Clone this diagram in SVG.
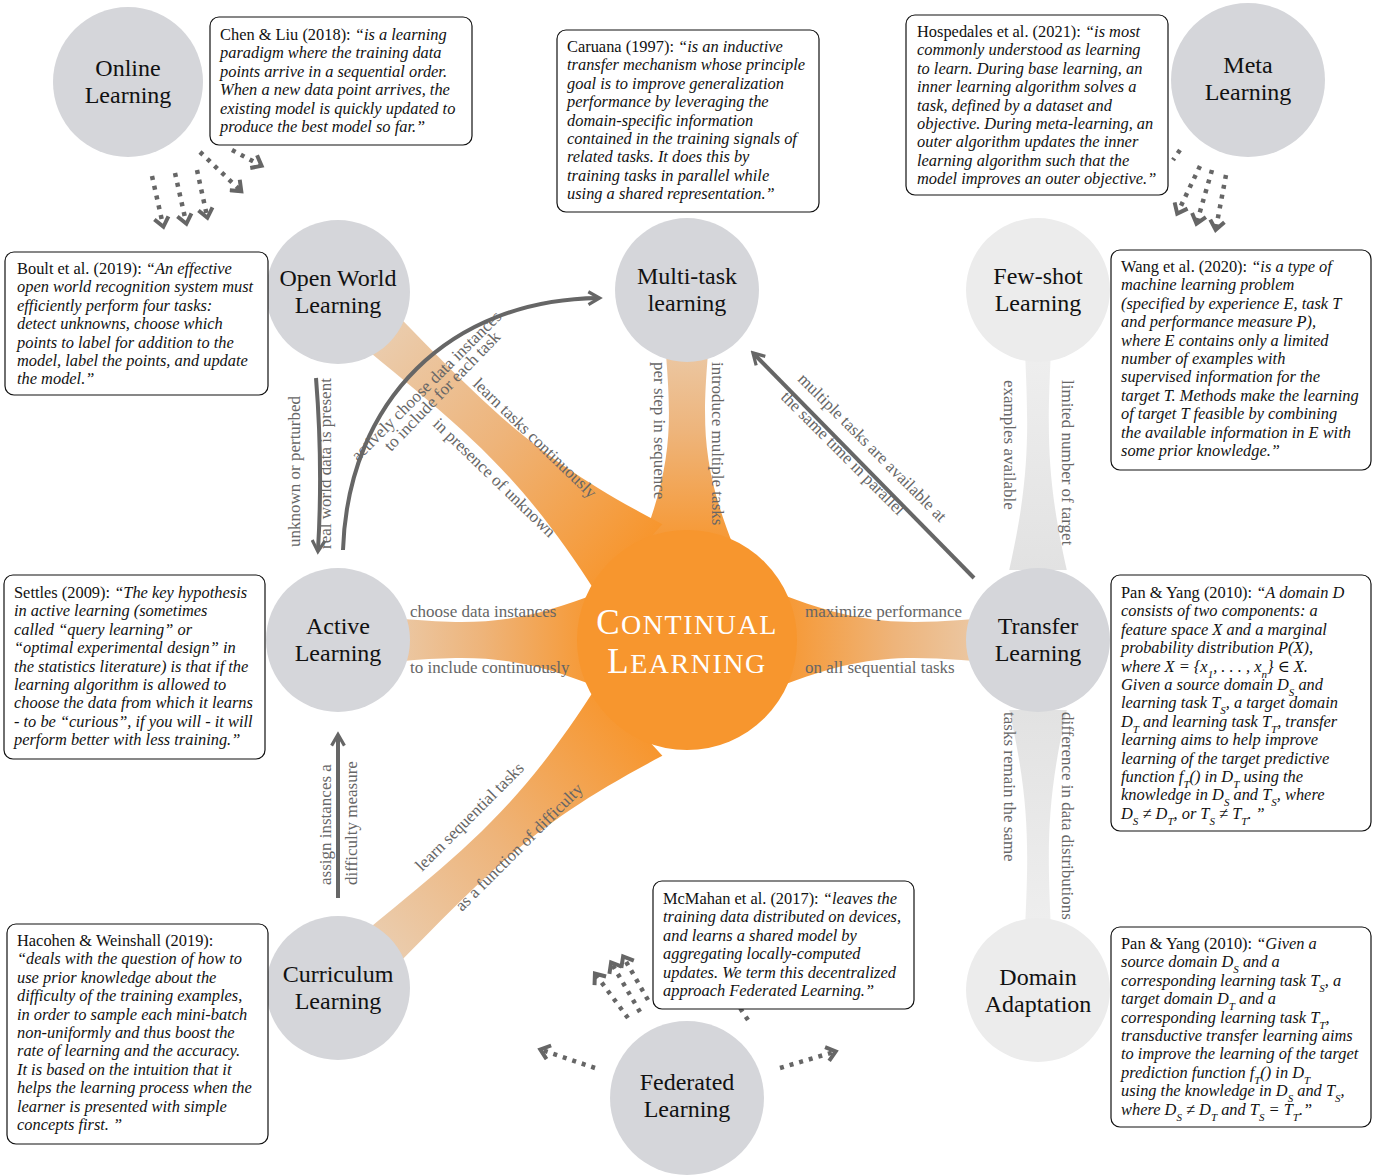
<svg xmlns="http://www.w3.org/2000/svg" width="1373" height="1176" viewBox="0 0 1373 1176">
<style>
text{font-family:"Liberation Serif","DejaVu Serif",serif}
.node{fill:#d5d6da}
.lnode{fill:#ececec}
.nl{font-size:24px;fill:#111;text-anchor:middle}
.box{fill:#fff;stroke:#111;stroke-width:1.2}
.bt{font-size:16.4px;fill:#111}
.i{font-style:italic}
.sb{font-size:11px;baseline-shift:sub}
.cl{font-size:17px;fill:#666}
.arr{fill:none;stroke:#666;stroke-width:4}
.dot{fill:none;stroke:#666;stroke-width:4.5;stroke-dasharray:4 6}
</style>
<defs>
<linearGradient id="og" x1="0" y1="0" x2="1" y2="0">
<stop offset="0" stop-color="#e9d6c2"/><stop offset="0.55" stop-color="#eeb47a"/><stop offset="1" stop-color="#f7962e"/>
</linearGradient>
<linearGradient id="gg" x1="0" y1="0" x2="1" y2="0">
<stop offset="0" stop-color="#f2f2f2"/><stop offset="1" stop-color="#e2e2e2"/>
</linearGradient>
<path id="fun" d="M0,-26 C90,-18 120,-6 200,-48 L200,48 C120,6 90,18 0,26 Z"/>
<marker id="ah" viewBox="0 0 10 10" refX="7" refY="5" markerWidth="4" markerHeight="4" orient="auto"><path d="M1,1 L8,5 L1,9" fill="none" stroke="#666" stroke-width="2"/></marker>
<marker id="ch" viewBox="0 0 10 10" refX="5" refY="5" markerWidth="4" markerHeight="4" orient="auto"><path d="M1,1 L6,5 L1,9" fill="none" stroke="#666" stroke-width="2.2"/></marker>
</defs>

<g id="connectors">
<use href="#fun" fill="url(#og)" transform="translate(338,640) scale(1.31,1)"/>
<use href="#fun" fill="url(#og)" transform="translate(1038,640) rotate(180) scale(1.31,1)"/>
<use href="#fun" fill="url(#og)" transform="translate(687,290) rotate(90) scale(1.3,1)"/>
<use href="#fun" fill="url(#og)" transform="translate(338,292) rotate(42.5) scale(1.98,1)"/>
<use href="#fun" fill="url(#og)" transform="translate(338,988) rotate(-42.5) scale(1.98,1)"/>
<use href="#fun" fill="url(#gg)" transform="translate(1038,290) rotate(90) scale(1.4,0.6)"/>
<use href="#fun" fill="url(#gg)" transform="translate(1038,990) rotate(-90) scale(1.4,0.6)"/>
<path class="arr" d="M316,378 Q323,465 318,550" marker-end="url(#ah)"/>
<path class="arr" d="M343,550 C348,400 450,300 598,298" marker-end="url(#ah)"/>
<path class="arr" d="M338,898 L338,736" marker-end="url(#ah)"/>
<path class="arr" d="M974,578 L754,354" marker-end="url(#ah)"/>
<path class="dot" d="M200,152 L240,190" marker-end="url(#ch)"/>
<path class="dot" d="M232,150 L260,165" marker-end="url(#ch)"/>
<path class="dot" d="M152,176 L163,225" marker-end="url(#ch)"/>
<path class="dot" d="M175,173 L186,222" marker-end="url(#ch)"/>
<path class="dot" d="M197,170 L207,216" marker-end="url(#ch)"/>
<path class="dot" d="M1180,150 L1173,160"/>
<path class="dot" d="M1200,166 L1178,212" marker-end="url(#ch)"/>
<path class="dot" d="M1212,170 L1197,222" marker-end="url(#ch)"/>
<path class="dot" d="M1226,175 L1216,228" marker-end="url(#ch)"/>
<path class="dot" d="M595,1068 L542,1050" marker-end="url(#ch)"/>
<path class="dot" d="M780,1068 L834,1052" marker-end="url(#ch)"/>
<path class="dot" d="M628,1018 L596,975" marker-end="url(#ch)"/>
<path class="dot" d="M640,1012 L612,964" marker-end="url(#ch)"/>
<path class="dot" d="M648,1000 L624,958" marker-end="url(#ch)"/>
<path class="dot" d="M748,1020 L740,1008"/>
</g>

<g id="conn-labels" class="cl">
<text x="410" y="617">choose data instances</text>
<text x="410" y="673">to include continuously</text>
<text x="805" y="617">maximize performance</text>
<text x="805" y="673">on all sequential tasks</text>
<text transform="translate(654,362) rotate(90)">per step in sequence</text>
<text transform="translate(712,362) rotate(90)">introduce multiple tasks</text>
<text transform="translate(1004,380) rotate(90)">examples available</text>
<text transform="translate(1062,380) rotate(90)">limited number of target</text>
<text transform="translate(1004,712) rotate(90)">tasks remain the same</text>
<text transform="translate(1062,712) rotate(90)">difference in data distributions</text>
<text transform="translate(472,385) rotate(44)">learn tasks continuously</text>
<text transform="translate(432,425) rotate(44)">in presence of unknown</text>
<text transform="translate(358,462) rotate(-45)">actively choose data instances</text>
<text transform="translate(391,452) rotate(-46)">to include for each task</text>
<text transform="translate(797,380) rotate(45)">multiple tasks are available at</text>
<text transform="translate(780,398) rotate(45)">the same time in parallel</text>
<text transform="translate(300,547) rotate(-90)">unknown or perturbed</text>
<text transform="translate(331,549) rotate(-90)">real world data is present</text>
<text transform="translate(331,885) rotate(-90)">assign instances a</text>
<text transform="translate(357,885) rotate(-90)">difficulty measure</text>
<text transform="translate(422,872) rotate(-45)">learn sequential tasks</text>
<text transform="translate(462,912) rotate(-45)">as a function of difficulty</text>
</g>

<g id="center"><circle cx="687" cy="640" r="110" fill="#f7962e"/>
<text x="687" y="634" text-anchor="middle" fill="#fff" font-size="28" letter-spacing="1.5"><tspan font-size="35">C</tspan>ONTINUAL</text>
<text x="687" y="673" text-anchor="middle" fill="#fff" font-size="28" letter-spacing="1.5"><tspan font-size="35">L</tspan>EARNING</text></g>

<g id="online"><circle class="node" cx="128" cy="82" r="75"/><text class="nl" x="128" y="76">Online</text><text class="nl" x="128" y="103">Learning</text></g>
<g id="openworld"><circle class="node" cx="338" cy="292" r="72"/><text class="nl" x="338" y="286">Open World</text><text class="nl" x="338" y="313">Learning</text></g>
<g id="multitask"><circle class="node" cx="687" cy="290" r="72"/><text class="nl" x="687" y="284">Multi-task</text><text class="nl" x="687" y="311">learning</text></g>
<g id="fewshot"><circle class="lnode" cx="1038" cy="290" r="72"/><text class="nl" x="1038" y="284">Few-shot</text><text class="nl" x="1038" y="311">Learning</text></g>
<g id="meta"><circle class="node" cx="1248" cy="80" r="77"/><text class="nl" x="1248" y="73">Meta</text><text class="nl" x="1248" y="100">Learning</text></g>
<g id="active"><circle class="node" cx="338" cy="640" r="72"/><text class="nl" x="338" y="634">Active</text><text class="nl" x="338" y="661">Learning</text></g>
<g id="transfer"><circle class="node" cx="1038" cy="640" r="72"/><text class="nl" x="1038" y="634">Transfer</text><text class="nl" x="1038" y="661">Learning</text></g>
<g id="curriculum"><circle class="node" cx="338" cy="988" r="72"/><text class="nl" x="338" y="982">Curriculum</text><text class="nl" x="338" y="1009">Learning</text></g>
<g id="domain"><circle class="lnode" cx="1038" cy="990" r="72"/><text class="nl" x="1038" y="985">Domain</text><text class="nl" x="1038" y="1012">Adaptation</text></g>
<g id="federated"><circle class="node" cx="687" cy="1098" r="77"/><text class="nl" x="687" y="1090">Federated</text><text class="nl" x="687" y="1117">Learning</text></g>

<g id="box-chen"><rect class="box" x="210" y="17" width="262" height="128" rx="9"/>
<text class="bt" x="220" y="40">Chen &amp; Liu (2018): <tspan class="i">“is a learning</tspan></text>
<text class="bt i" x="220" y="58.4">paradigm where the training data</text>
<text class="bt i" x="220" y="76.8">points arrive in a sequential order.</text>
<text class="bt i" x="220" y="95.2">When a new data point arrives, the</text>
<text class="bt i" x="220" y="113.6">existing model is quickly updated to</text>
<text class="bt i" x="220" y="132">produce the best model so far.”</text></g>

<g id="box-caruana"><rect class="box" x="557" y="30" width="262" height="182" rx="9"/>
<text class="bt" x="567" y="52">Caruana (1997): <tspan class="i">“is an inductive</tspan></text>
<text class="bt i" x="567" y="70.4">transfer mechanism whose principle</text>
<text class="bt i" x="567" y="88.8">goal is to improve generalization</text>
<text class="bt i" x="567" y="107.2">performance by leveraging the</text>
<text class="bt i" x="567" y="125.6">domain-specific information</text>
<text class="bt i" x="567" y="144">contained in the training signals of</text>
<text class="bt i" x="567" y="162.4">related tasks. It does this by</text>
<text class="bt i" x="567" y="180.8">training tasks in parallel while</text>
<text class="bt i" x="567" y="199.2">using a shared representation.”</text></g>

<g id="box-hospedales"><rect class="box" x="906" y="15" width="262" height="180" rx="9"/>
<text class="bt" x="917" y="37">Hospedales et al. (2021): <tspan class="i">“is most</tspan></text>
<text class="bt i" x="917" y="55.4">commonly understood as learning</text>
<text class="bt i" x="917" y="73.8">to learn. During base learning, an</text>
<text class="bt i" x="917" y="92.2">inner learning algorithm solves a</text>
<text class="bt i" x="917" y="110.6">task, defined by a dataset and</text>
<text class="bt i" x="917" y="129">objective. During meta-learning, an</text>
<text class="bt i" x="917" y="147.4">outer algorithm updates the inner</text>
<text class="bt i" x="917" y="165.8">learning algorithm such that the</text>
<text class="bt i" x="917" y="184.2">model improves an outer objective.”</text></g>

<g id="box-boult"><rect class="box" x="5" y="252" width="263" height="143" rx="9"/>
<text class="bt" x="17" y="274">Boult et al. (2019): <tspan class="i">“An effective</tspan></text>
<text class="bt i" x="17" y="292.4">open world recognition system must</text>
<text class="bt i" x="17" y="310.8">efficiently perform four tasks:</text>
<text class="bt i" x="17" y="329.2">detect unknowns, choose which</text>
<text class="bt i" x="17" y="347.6">points to label for addition to the</text>
<text class="bt i" x="17" y="366">model, label the points, and update</text>
<text class="bt i" x="17" y="384.4">the model.”</text></g>

<g id="box-wang"><rect class="box" x="1111" y="250" width="260" height="220" rx="9"/>
<text class="bt" x="1121" y="272">Wang et al. (2020): <tspan class="i">“is a type of</tspan></text>
<text class="bt i" x="1121" y="290.4">machine learning problem</text>
<text class="bt i" x="1121" y="308.8">(specified by experience E, task T</text>
<text class="bt i" x="1121" y="327.2">and performance measure P),</text>
<text class="bt i" x="1121" y="345.6">where E contains only a limited</text>
<text class="bt i" x="1121" y="364">number of examples with</text>
<text class="bt i" x="1121" y="382.4">supervised information for the</text>
<text class="bt i" x="1121" y="400.8">target T. Methods make the learning</text>
<text class="bt i" x="1121" y="419.2">of target T feasible by combining</text>
<text class="bt i" x="1121" y="437.6">the available information in E with</text>
<text class="bt i" x="1121" y="456">some prior knowledge.”</text></g>

<g id="box-settles"><rect class="box" x="4" y="575" width="261" height="184" rx="9"/>
<text class="bt" x="14" y="598">Settles (2009): <tspan class="i">“The key hypothesis</tspan></text>
<text class="bt i" x="14" y="616.4">in active learning (sometimes</text>
<text class="bt i" x="14" y="634.8">called “query learning” or</text>
<text class="bt i" x="14" y="653.2">“optimal experimental design” in</text>
<text class="bt i" x="14" y="671.6">the statistics literature) is that if the</text>
<text class="bt i" x="14" y="690">learning algorithm is allowed to</text>
<text class="bt i" x="14" y="708.4">choose the data from which it learns</text>
<text class="bt i" x="14" y="726.8">- to be “curious”, if you will - it will</text>
<text class="bt i" x="14" y="745.2">perform better with less training.”</text></g>

<g id="box-pan1"><rect class="box" x="1111" y="575" width="260" height="256" rx="9"/>
<text class="bt" x="1121" y="598">Pan &amp; Yang (2010): <tspan class="i">“A domain D</tspan></text>
<text class="bt i" x="1121" y="616.4">consists of two components: a</text>
<text class="bt i" x="1121" y="634.8">feature space X and a marginal</text>
<text class="bt i" x="1121" y="653.2">probability distribution P(X),</text>
<text class="bt i" x="1121" y="671.6">where X = {x<tspan class="sb">1</tspan>, . . . , x<tspan class="sb">n</tspan>} ∈ X.</text>
<text class="bt i" x="1121" y="690">Given a source domain D<tspan class="sb">S</tspan> and</text>
<text class="bt i" x="1121" y="708.4">learning task T<tspan class="sb">S</tspan>, a target domain</text>
<text class="bt i" x="1121" y="726.8">D<tspan class="sb">T</tspan> and learning task T<tspan class="sb">T</tspan>, transfer</text>
<text class="bt i" x="1121" y="745.2">learning aims to help improve</text>
<text class="bt i" x="1121" y="763.6">learning of the target predictive</text>
<text class="bt i" x="1121" y="782">function f<tspan class="sb">T</tspan>() in D<tspan class="sb">T</tspan> using the</text>
<text class="bt i" x="1121" y="800.4">knowledge in D<tspan class="sb">S</tspan> and T<tspan class="sb">S</tspan>, where</text>
<text class="bt i" x="1121" y="818.8">D<tspan class="sb">S</tspan> ≠ D<tspan class="sb">T</tspan>, or T<tspan class="sb">S</tspan> ≠ T<tspan class="sb">T</tspan>. ”</text></g>

<g id="box-hacohen"><rect class="box" x="7" y="924" width="261" height="220" rx="9"/>
<text class="bt" x="17" y="946">Hacohen &amp; Weinshall (2019):</text>
<text class="bt i" x="17" y="964.4">“deals with the question of how to</text>
<text class="bt i" x="17" y="982.8">use prior knowledge about the</text>
<text class="bt i" x="17" y="1001.2">difficulty of the training examples,</text>
<text class="bt i" x="17" y="1019.6">in order to sample each mini-batch</text>
<text class="bt i" x="17" y="1038">non-uniformly and thus boost the</text>
<text class="bt i" x="17" y="1056.4">rate of learning and the accuracy.</text>
<text class="bt i" x="17" y="1074.8">It is based on the intuition that it</text>
<text class="bt i" x="17" y="1093.2">helps the learning process when the</text>
<text class="bt i" x="17" y="1111.6">learner is presented with simple</text>
<text class="bt i" x="17" y="1130">concepts first. ”</text></g>

<g id="box-mcmahan"><rect class="box" x="653" y="881" width="261" height="128" rx="9"/>
<text class="bt" x="663" y="904">McMahan et al. (2017): <tspan class="i">“leaves the</tspan></text>
<text class="bt i" x="663" y="922.4">training data distributed on devices,</text>
<text class="bt i" x="663" y="940.8">and learns a shared model by</text>
<text class="bt i" x="663" y="959.2">aggregating locally-computed</text>
<text class="bt i" x="663" y="977.6">updates. We term this decentralized</text>
<text class="bt i" x="663" y="996">approach Federated Learning.”</text></g>

<g id="box-pan2"><rect class="box" x="1111" y="927" width="260" height="200" rx="9"/>
<text class="bt" x="1121" y="949">Pan &amp; Yang (2010): <tspan class="i">“Given a</tspan></text>
<text class="bt i" x="1121" y="967.4">source domain D<tspan class="sb">S</tspan> and a</text>
<text class="bt i" x="1121" y="985.8">corresponding learning task T<tspan class="sb">S</tspan>, a</text>
<text class="bt i" x="1121" y="1004.2">target domain D<tspan class="sb">T</tspan> and a</text>
<text class="bt i" x="1121" y="1022.6">corresponding learning task T<tspan class="sb">T</tspan>,</text>
<text class="bt i" x="1121" y="1041">transductive transfer learning aims</text>
<text class="bt i" x="1121" y="1059.4">to improve the learning of the target</text>
<text class="bt i" x="1121" y="1077.8">prediction function f<tspan class="sb">T</tspan>() in D<tspan class="sb">T</tspan></text>
<text class="bt i" x="1121" y="1096.2">using the knowledge in D<tspan class="sb">S</tspan> and T<tspan class="sb">S</tspan>,</text>
<text class="bt i" x="1121" y="1114.6">where D<tspan class="sb">S</tspan> ≠ D<tspan class="sb">T</tspan> and T<tspan class="sb">S</tspan> = T<tspan class="sb">T</tspan>.”</text></g>
</svg>
